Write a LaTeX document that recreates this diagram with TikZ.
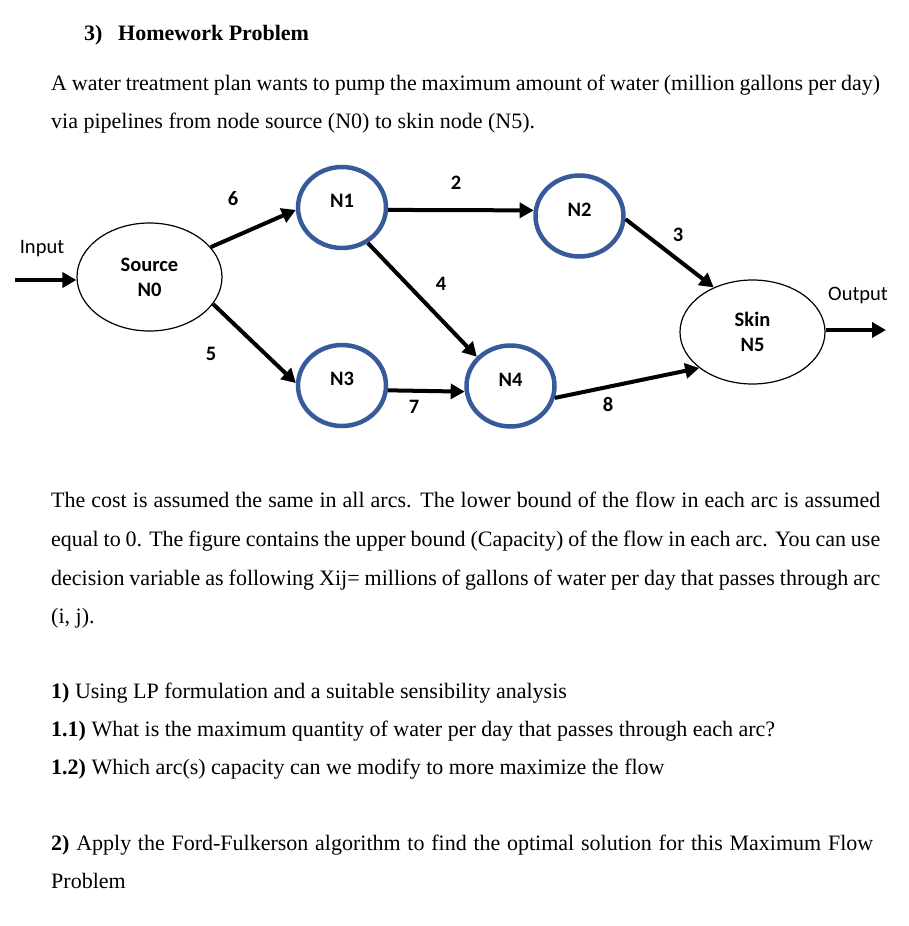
\documentclass[tikz,border=0pt]{standalone}
\usepackage{fontspec}
\setmainfont{Liberation Serif}
\newfontfamily\diagfont{Carlito}
\usetikzlibrary{arrows.meta,shapes.geometric}
\definecolor{ringblue}{RGB}{55,90,155}

\begin{document}
\begin{tikzpicture}[x=1pt, y=-1pt,
    textline/.style={anchor=base west, inner sep=0pt, font=\fontsize{22}{26}\selectfont},
    terminal/.style={ellipse, draw=black, line width=1.2pt, minimum width=145pt, minimum height=108pt, align=center, inner sep=0pt, font=\diagfont\bfseries\fontsize{20.5}{25}\selectfont},
    junction/.style={ellipse, draw=ringblue, line width=4.5pt, minimum width=88pt, minimum height=81pt, inner sep=0pt, text height=11pt, text depth=11pt, font=\diagfont\bfseries\fontsize{20.5}{24}\selectfont},
    capacity/.style={inner sep=0pt, font=\diagfont\bfseries\fontsize{20.5}{24}\selectfont},
    caption/.style={inner sep=0pt, font=\diagfont\fontsize{20.5}{24}\selectfont},
    pipe/.style={-{Triangle[length=14pt,width=15pt]}, line width=4pt}
]
\useasboundingbox (0,0) rectangle (908,926);

% Heading and statement
\node[textline] (title) at (84,40) {\textbf{\makebox[34pt][l]{3)}Homework Problem}};
\node[textline] (intro1) at (51,90) {\makebox[829pt][s]{A water treatment plan wants to pump the maximum amount of water (million gallons per day)}};
\node[textline] (intro2) at (51,128) {via pipelines from node source (N0) to skin node (N5).};

% Network nodes
\node[terminal] (n0) at (149.5,277) {Source\\N0};
\node[junction] (n1) at (342,207.5) {N1};
\node[junction] (n2) at (579.5,216) {N2};
\node[junction] (n3) at (342,385.5) {N3};
\node[junction] (n4) at (510.5,386) {N4};
\node[terminal, minimum height=104pt] (n5) at (752.5,332) {Skin\\N5};

% Input and output
\coordinate (inlet) at (15,280);
\coordinate (outlet) at (886,330);
\node[caption] (inlabel) at (42,249) {Input};
\node[caption] (outlabel) at (858,295) {Output};
\draw[pipe] (inlet) -- (inlet -| n0.west);
\draw[pipe] (n5.east |- outlet) -- (outlet);

% Arcs
\draw[pipe] (n0.26) -- (n1.183);
\draw[pipe] (n0.-23) -- (n3.177);
\draw[pipe] (n1.-3) -- (n2.173);
\draw[pipe] (n1.-54) -- (n4.139);
\draw[pipe] (n3.-6) -- (n4.187);
\draw[pipe] (n2.-4) -- (n5.131);
\draw[pipe] (n4.-15) -- (n5.214);

% Capacities
\node[capacity] (c01) at (233,199) {6};
\node[capacity] (c03) at (211,354) {5};
\node[capacity] (c12) at (456,183) {2};
\node[capacity] (c14) at (441,284) {4};
\node[capacity] (c34) at (414,407) {7};
\node[capacity] (c25) at (678,235) {3};
\node[capacity] (c45) at (608,404) {8};

% Assumptions
\node[textline] (para1) at (51,507) {\makebox[829pt][s]{The cost is assumed the same in all arcs. The lower bound of the flow in each arc is assumed}};
\node[textline] (para2) at (51,546) {\makebox[829pt][s]{equal to 0. The figure contains the upper bound (Capacity) of the flow in each arc. You can use}};
\node[textline] (para3) at (51,585) {\makebox[829pt][s]{decision variable as following Xij= millions of gallons of water per day that passes through arc}};
\node[textline] (para4) at (51,623) {(i, j).};

% Questions
\node[textline] (q1) at (51,698) {\textbf{1)} Using LP formulation and a suitable sensibility analysis};
\node[textline] (q11) at (51,736) {\textbf{1.1)} What is the maximum quantity of water per day that passes through each arc?};
\node[textline] (q12) at (51,774) {\textbf{1.2)} Which arc(s) capacity can we modify to more maximize the flow};
\node[textline] (q2) at (51,850) {\makebox[822pt][s]{\textbf{2)} Apply the Ford-Fulkerson algorithm to find the optimal solution for this Maximum Flow}};
\node[textline] (q2b) at (51,888) {Problem};

\end{tikzpicture}
\end{document}
